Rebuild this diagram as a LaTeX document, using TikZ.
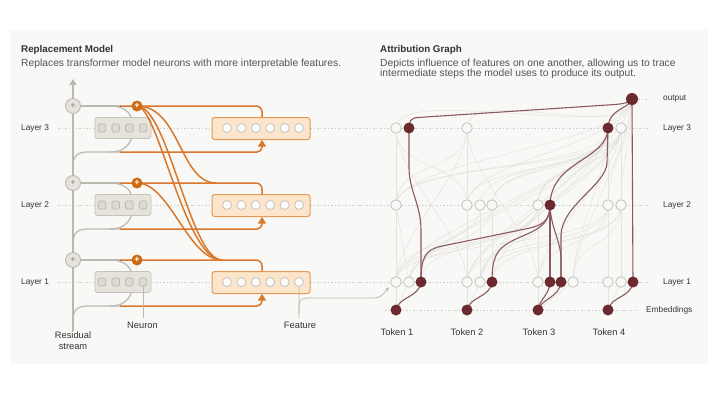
\documentclass[tikz,border=0pt]{standalone}
\usepackage{fontspec}
\setmainfont{Liberation Sans}
\usetikzlibrary{arrows.meta,calc}
\definecolor{panel}{HTML}{F8F8F6}
\definecolor{orng}{HTML}{D9772A}
\definecolor{orngdark}{HTML}{CF6A12}
\definecolor{featfill}{HTML}{FDE5CC}
\definecolor{featdraw}{HTML}{E39A55}
\definecolor{neufill}{HTML}{E5E3DB}
\definecolor{neudraw}{HTML}{C6C3B9}
\definecolor{sqfill}{HTML}{DDDAD1}
\definecolor{sqdraw}{HTML}{B8B5AB}
\definecolor{resid}{HTML}{BBB8B0}
\definecolor{maroon}{HTML}{6C2A2F}
\definecolor{edgec}{HTML}{8A5A5E}
\definecolor{faint}{HTML}{E5E3DF}
\definecolor{dotc}{HTML}{CDCDCD}
\definecolor{hollowc}{HTML}{C4C2BE}
\definecolor{txt}{HTML}{333333}
\definecolor{subtxt}{HTML}{555555}
\begin{document}
\begin{tikzpicture}[x=1pt,y=-1pt,
  fnode/.style={circle,fill=maroon,inner sep=0pt,minimum size=11pt},
  hnode/.style={circle,draw=hollowc,line width=0.8pt,fill=panel,inner sep=0pt,minimum size=10.5pt},
  redge/.style={draw=edgec,line width=1.1pt},
  fedge/.style={draw=faint,line width=0.5pt},
  dotline/.style={draw=dotc,line width=0.6pt,dash pattern=on 1.5pt off 2pt},
  lbl/.style={text=txt,font=\fontsize{8.3}{10}\selectfont,inner sep=0pt},
  captxt/.style={text=txt,font=\fontsize{9.3}{11}\selectfont,inner sep=0pt,anchor=base},
  ttl/.style={text=txt,font=\bfseries\fontsize{9.8}{12}\selectfont,inner sep=0pt,anchor=base west},
  sub/.style={text=subtxt,font=\fontsize{10.3}{12}\selectfont,inner sep=0pt,anchor=base west},
  gline/.style={draw=resid,line width=1.2pt},
  oline/.style={draw=orng,line width=1.5pt},
  neubox/.style={draw=neudraw,fill=neufill,line width=0.8pt,rounded corners=2.5pt,minimum width=56pt,minimum height=21pt,inner sep=0pt},
  featbox/.style={draw=featdraw,fill=featfill,line width=1pt,rounded corners=2.5pt,minimum width=98pt,minimum height=22pt,inner sep=0pt},
  sq/.style={draw=sqdraw,fill=sqfill,line width=0.7pt,rounded corners=1.5pt,minimum width=7.5pt,minimum height=8pt,inner sep=0pt},
  fc/.style={circle,draw=hollowc,fill=white!60!panel,line width=0.8pt,minimum size=9pt,inner sep=0pt},
  gplus/.style={circle,draw=resid,fill=neufill,line width=0.9pt,minimum size=15pt,inner sep=0pt,text=gray,font=\fontsize{9}{9}\selectfont},
  oplus/.style={circle,fill=orngdark,minimum size=11pt,inner sep=0pt,text=white,font=\bfseries\fontsize{9}{9}\selectfont}
]
\useasboundingbox (0,0) rectangle (726,405);
\fill[white] (0,0) rectangle (726,405);
\fill[panel] (10,30) rectangle (708,364);

% titles
\node[ttl] (t1) at (21,52) {Replacement Model};
\node[sub] (s1) at (21,66.5) {Replaces transformer model neurons with more interpretable features.};
\node[ttl] (t2) at (380,52) {Attribution Graph};
\node[sub] (s2) at (380,66) {Depicts influence of features on one another, allowing us to trace};
\node[sub] (s3) at (380,76.5) {intermediate steps the model uses to produce its output.};

% dotted layer lines
\foreach \yc in {128,205,282} {
  \draw[dotline] (58,\yc) -- (648,\yc);
}
\draw[dotline] (638,99) -- (647,99);
\draw[dotline] (385,310) -- (638,310);

% layer labels
\node[lbl,anchor=west] (ll3) at (21,128) {Layer 3};
\node[lbl,anchor=west] (ll2) at (21,205) {Layer 2};
\node[lbl,anchor=west] (ll1) at (21,282) {Layer 1};
\node[lbl,anchor=west] (rlo) at (663,99) {output};
\node[lbl,anchor=west] (rl3) at (663,128) {Layer 3};
\node[lbl,anchor=west] (rl2) at (663,205) {Layer 2};
\node[lbl,anchor=west] (rl1) at (663,282) {Layer 1};
\node[lbl,anchor=west] (rle) at (646,310) {Embeddings};

% residual stream
\coordinate (rbot) at (73,331);
\coordinate (rtop) at (73,79);
\draw[gline,-{Triangle[width=7pt,length=6pt]}] (rbot) -- (rtop);

% per layer left structure
\foreach \L/\yc in {1/282,2/205,3/128} {
  \pgfmathsetmacro{\tp}{\yc-22}
  \pgfmathsetmacro{\bt}{\yc+24}
  % gray arc behind neuron box
  \draw[gline] (110,\tp) .. controls (128,\tp) and (133,\yc-12) .. (133,\yc) .. controls (133,\yc+12) and (128,\bt) .. (110,\bt);
  % bottom branch
  \draw[gline] (73,\bt+15) .. controls (73,\bt+4) and (77,\bt) .. (88,\bt) -- (121,\bt);
  \draw[oline,rounded corners=5pt,-{Triangle[width=8pt,length=6.5pt]}] (120,\bt) -| (262,\yc+12);
  % top line
  \draw[gline] (73,\tp) -- (121,\tp);
  \draw[oline,rounded corners=6pt] (120,\tp) -| (262,\yc-10);
  % boxes
  \node[neubox] (nb\L) at (123,\yc) {};
  \foreach \i/\x in {1/102,2/115.7,3/129.3,4/143} {
    \node[sq] (nq\L\i) at (\x,\yc) {};
  }
  \node[featbox] (fb\L) at (261,\yc+0.5) {};
  \foreach \i in {1,...,6} {
    \node[fc] (fq\L\i) at ({227+14.4*(\i-1)},\yc) {};
  }
}
% cross-layer writes
\draw[oline] (137,106) .. controls (180,106) and (180,183) .. (216,183);
\draw[oline] (137,106) .. controls (158,106) and (185,260) .. (222,260);
\draw[oline] (137,106) .. controls (168,106) and (190,260) .. (222,260);
\draw[oline] (137,183) .. controls (170,183) and (188,260) .. (222,260);

% plus nodes
\foreach \L/\yc in {1/282,2/205,3/128} {
  \node[gplus] (gp\L) at (73,\yc-22) {+};
  \node[oplus] (op\L) at (137,\yc-22) {+};
}

% pointers and captions
\node[captxt] (neur) at (142.5,328) {Neuron};
\node[captxt] (feat) at (300,328) {Feature};
\node[captxt] (res1) at (73,338) {Residual};
\node[captxt] (res2) at (73,349.5) {stream};
\draw[draw=resid,line width=0.8pt] (nq14.south) -- (143,318);
\draw[draw=resid,line width=0.8pt] (fq16.south) -- (299,318);
\coordinate (arrtip) at (389,287.5);
\draw[draw=resid,line width=0.8pt,-{Stealth[width=4pt,length=4pt]}] (299,313) -- (299,306) .. controls (299,300) and (302,298) .. (308,298) -- (374,298) .. controls (381,298) and (384,293) .. (arrtip);

% ===== attribution graph =====
\coordinate (O) at (632,99);
\foreach \n/\x/\y in {a3h/396/128, a3f/409/128, b3h/467/128, d3f/608/128, d3h/621/128,
  a2h/396/205, b2h/467/205, b2i/480/205, b2j/492/205, c2h/538/205, c2f/550/205, d2h/608/205, d2i/621/205,
  a1h/396/282, a1i/409/282, a1f/421/282, b1h/467/282, b1i/480/282, b1f/492/282, c1h/538/282, c1f/550/282, c1g/561/282, c1i/573/282, d1h/608/282, d1i/621/282, d1f/633/282,
  e1/396/310, e2/467/310, e3/538/310, e4/608/310} {
  \coordinate (\n) at (\x,\y);
}
% faint edges
\foreach \s/\t in {a3h/a1h, b3h/b1h, d3f/d1h, d3h/d1i, c2h/c1h, b2i/b1i, b2j/b1f, a2h/a1i,
  e1/a1h, e1/a1i, e2/b1h, e2/b1i, e3/c1h, e3/c1i, e4/d1h, e4/d1i} {
  \draw[fedge] (\s) -- (\t);
}
\foreach \s/\t in {a1h/d3f, a1i/d3h, b1h/d3f, b1i/d3h, a1h/b3h, a1i/d3f, c1h/d3h, c1i/d3f, b1h/d3h, b1f/d3f,
  a1h/b2i, a1i/c2h, b1h/d2h, b1i/d2i, a1h/d2h, a1f/c2h, b1f/d2i, c1i/d2i, a1i/b2j, c1h/d2h, a1h/c2h, b1i/c2f,
  a2h/d3f, b2h/d3h, b2i/d3f, b2j/d3h, c2h/d3h, a2h/b3h, b2h/a3h, b2j/d3f, c2h/d3f, a2h/d3h,
  a2h/O, b1i/O, d2i/O, b3h/O, a3h/O, b2h/O, c1i/O, d2h/O, b1h/a3h, c1h/b3h} {
  \draw[fedge] (\s) .. controls ($(\s)+(0,-45)$) and ($(\t)+(0,45)$) .. (\t);
}

% strong edges
\draw[redge] (O) .. controls (628,103) and (625,103.5) .. (615,104.5) -- (418,117.5) .. controls (411,118) and (409,121) .. (a3f);
\draw[redge] (O) .. controls (628,110) and (609,108) .. (d3f);
\draw[redge] (O) -- (d1f);
\draw[redge] (a3f) -- (409,168) .. controls (409,190) and (421,205) .. (421,230) -- (a1f);
\draw[redge] (d3f) .. controls (608,160) and (551,160) .. (c2f);
\draw[redge] (d3f) -- (607,163) .. controls (606,185) and (562,205) .. (561,235) -- (c1g);
\draw[redge] (c2f) .. controls (550,222) and (541,225) .. (530,228) -- (440,246.5) .. controls (425,250) and (421,258) .. (a1f);
\draw[redge] (c2f) .. controls (550,230) and (528,232) .. (510,242) .. controls (496,250) and (492,258) .. (b1f);
\draw[redge] (c2f) -- (c1f);
\draw[redge] (c2f) .. controls (551,230) and (561,240) .. (561,260) -- (c1g);
\draw[redge] (e1) .. controls (399,296) and (419,298) .. (a1f);
\draw[redge] (e2) .. controls (470,296) and (490,298) .. (b1f);
\draw[redge] (e3) .. controls (540,298) and (549,296) .. (c1f);
\draw[redge] (e3) .. controls (542,298) and (559,298) .. (c1g);
\draw[redge] (e4) .. controls (611,296) and (631,298) .. (d1f);

% nodes
\node[fnode,minimum size=12pt] (nO) at (O) {};
\foreach \n in {a3f,d3f,c2f,a1f,b1f,c1f,c1g,d1f,e1,e2,e3,e4} {
  \node[fnode] (n\n) at (\n) {};
}
\foreach \n in {a3h,b3h,d3h,a2h,b2h,b2i,b2j,c2h,d2h,d2i,a1h,a1i,b1h,b1i,c1h,c1i,d1h,d1i} {
  \node[hnode] (n\n) at (\n) {};
}

% token labels
\node[captxt] (tk1) at (397,335) {Token 1};
\node[captxt] (tk2) at (467,335) {Token 2};
\node[captxt] (tk3) at (539,335) {Token 3};
\node[captxt] (tk4) at (609,335) {Token 4};
\end{tikzpicture}
\end{document}
